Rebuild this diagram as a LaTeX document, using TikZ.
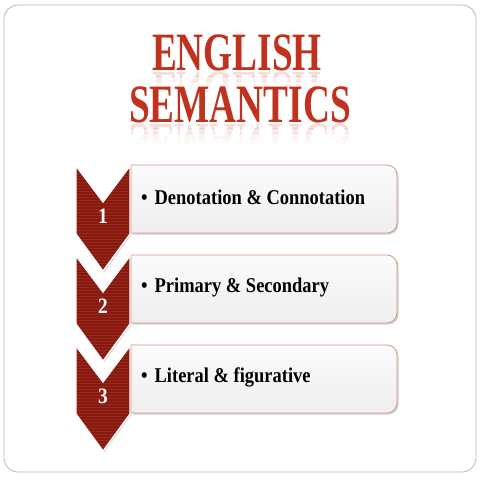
\documentclass[tikz,border=0pt]{standalone}
\usepackage{fontspec}
\setmainfont{Liberation Serif}
\newfontfamily\titlefont[FakeStretch=0.69]{Liberation Serif}
\newfontfamily\itemfont[FakeStretch=0.88]{Liberation Serif}
\usetikzlibrary{patterns,shadows}
\definecolor{chevred}{RGB}{136,25,15}
\definecolor{stripered}{RGB}{150,40,30}
\definecolor{titlered}{RGB}{192,50,30}
\definecolor{boxedge}{RGB}{214,150,130}
\begin{document}
\begin{tikzpicture}
  [x=1pt,y=-1pt,every node/.style={inner sep=0pt}]
  \tikzstyle{frame} = [draw=gray!55,line width=0.8pt,rounded corners=14pt,fill=white]
  \tikzstyle{title} = [anchor=base,text=titlered,font=\titlefont\bfseries\fontsize{54}{54}\selectfont]
  \tikzstyle{itembox} = [draw=boxedge,line width=0.8pt,top color=gray!3,bottom color=gray!13,
                         drop shadow={shadow xshift=1.5pt,shadow yshift=-1.5pt,opacity=.35}]
  \tikzstyle{chevron} = [draw=white,line width=1.3pt,line join=miter,
                         preaction={fill=chevred,drop shadow={shadow xshift=1pt,shadow yshift=-1.5pt,opacity=.3}},
                         preaction={pattern=horizontal lines,pattern color=stripered}]
  \tikzstyle{itemtext} = [anchor=west,font=\itemfont\bfseries\fontsize{21}{21}\selectfont]
  \tikzstyle{number} = [text=white,font=\itemfont\bfseries\fontsize{22}{22}\selectfont]
  \useasboundingbox (0,0) rectangle (480,480);
  \draw[frame] (4,5) rectangle (476,472);
  % title with its reflection
  \foreach \word /\xc /\yb in {ENGLISH/237/70,SEMANTICS/240/122} {
    \node[title] (t-\word) at (\xc,\yb) {\word};
    \foreach \k /\op in {0/0.16,1/0.10,2/0.05,3/0.02} {
      \begin{scope}
        \clip (0,\yb+1+5*\k) rectangle (480,\yb+6+5*\k);
        \node[title,yscale=-1,transform shape,opacity=\op] (r-\word-\k) at (\xc,\yb+2) {\word};
      \end{scope}
    }
  }
  % boxes first, chevrons on top
  \foreach \ytop /\num /\itemtxt in {166/1/Denotation \& Connotation,256/2/Primary \& Secondary,346/3/Literal \& figurative} {
    \draw[itembox] (131,\ytop-1) [rounded corners=10pt] -- (397,\ytop-1) -- (397,\ytop+67)
      [sharp corners] -- (131,\ytop+67) -- cycle;
    \node[itemtext] (item\num) at (141,\ytop+31) {\textbullet\hspace{7pt}\itemtxt};
  }
  \foreach \ytop /\num in {346/3,256/2,166/1} {
    \draw[chevron] (76,\ytop) -- (103,\ytop+36) -- (130,\ytop) -- (130,\ytop+68)
      -- (103,\ytop+105) -- (76,\ytop+68) -- cycle;
    \node[number] (num\num) at (103,\ytop+50) {\num};
  }
\end{tikzpicture}
\end{document}
